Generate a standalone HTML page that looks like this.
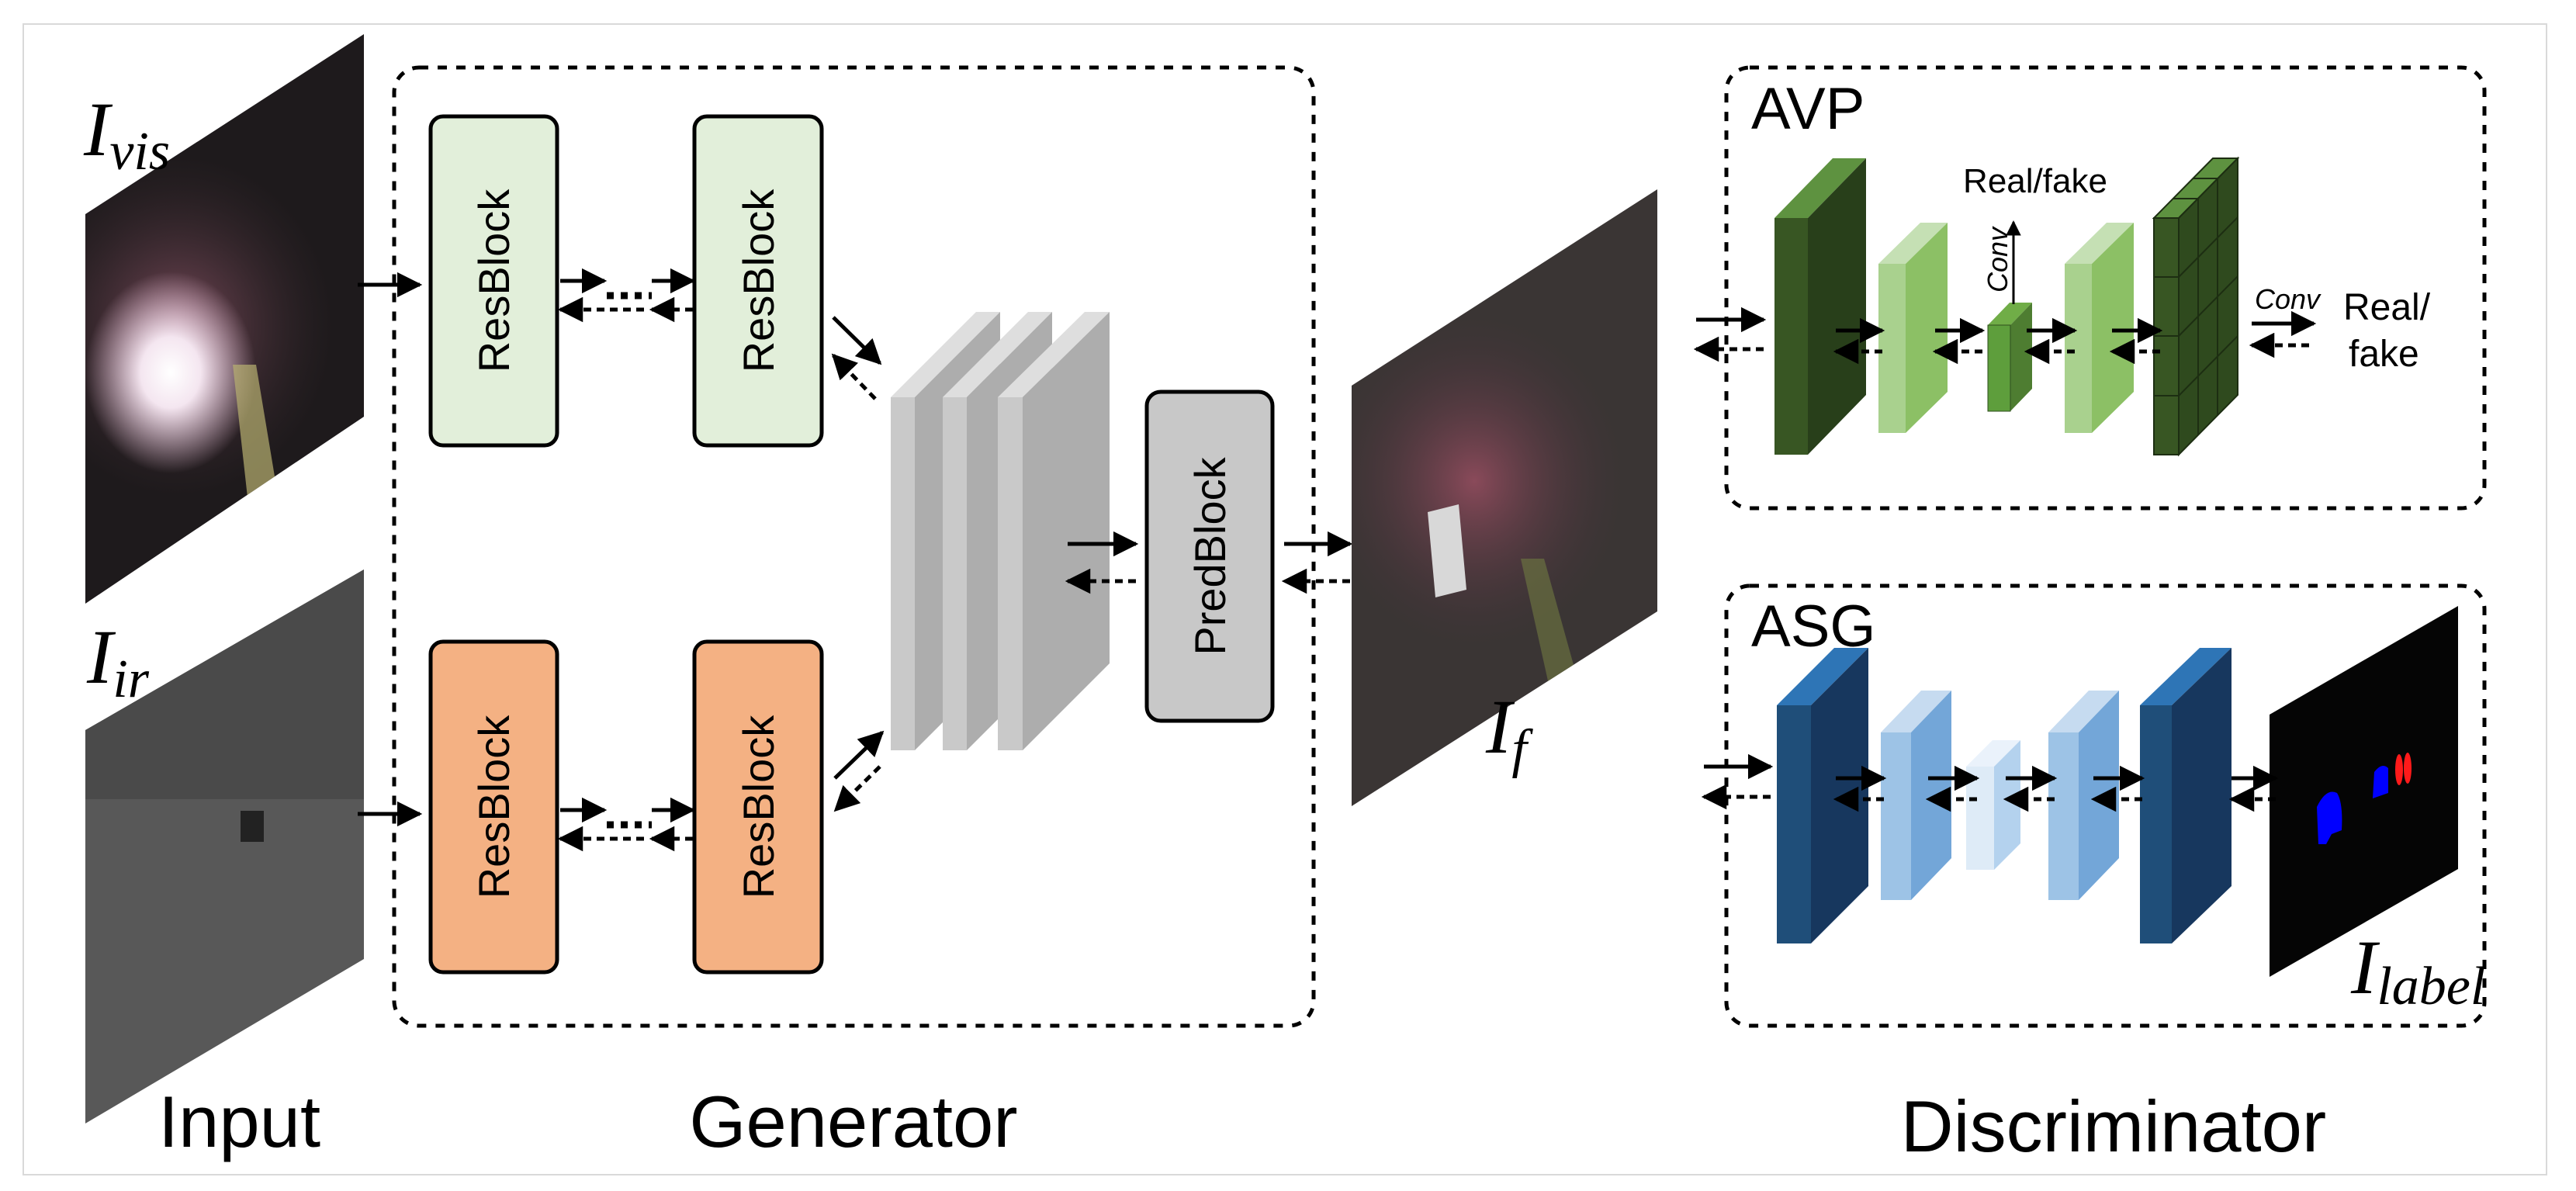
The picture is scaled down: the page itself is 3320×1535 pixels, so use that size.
<!DOCTYPE html>
<html><head><meta charset="utf-8"><style>
html,body{margin:0;padding:0;background:#fff;}
svg{display:block;}
text{font-family:"Liberation Sans",sans-serif;}
.serif{font-family:"Liberation Serif",serif;font-style:italic;}
</style></head><body>
<svg width="3320" height="1535" viewBox="0 0 3320 1535" xmlns="http://www.w3.org/2000/svg">
<defs>
<marker id="ah" viewBox="0 0 10 10" refX="9" refY="5" markerWidth="6.5" markerHeight="6.5" orient="auto" markerUnits="strokeWidth"><path d="M0,0 L10,5 L0,10 z" fill="#000"/></marker>
<clipPath id="cvis"><polygon points="110,276 469,44 469,537 110,778"/></clipPath>
<clipPath id="cir"><polygon points="110,941 469,734 469,1236 110,1448"/></clipPath>
<clipPath id="cf"><polygon points="1742,497 2136,244 2136,788 1742,1039"/></clipPath>
<radialGradient id="glow" cx="0.5" cy="0.5" r="0.5"><stop offset="0" stop-color="#fff"/><stop offset="0.35" stop-color="#f4e6f0"/><stop offset="1" stop-color="#f0c8e0" stop-opacity="0"/></radialGradient>
<radialGradient id="pink" cx="0.5" cy="0.5" r="0.5"><stop offset="0" stop-color="#7a4a5a"/><stop offset="1" stop-color="#3a2a30" stop-opacity="0"/></radialGradient>
<radialGradient id="fglow" cx="0.5" cy="0.5" r="0.5"><stop offset="0" stop-color="#8a4a5a"/><stop offset="1" stop-color="#403038" stop-opacity="0"/></radialGradient>
</defs>
<rect x="30" y="31" width="3252" height="1483" fill="none" stroke="#d9d9d9" stroke-width="2"/>

<!-- Input images -->
<g clip-path="url(#cvis)">
<rect x="100" y="40" width="380" height="750" fill="#1e1a1c"/>
<ellipse cx="230" cy="420" rx="200" ry="220" fill="url(#pink)"/>
<ellipse cx="220" cy="480" rx="110" ry="130" fill="url(#glow)"/>
<polygon points="300,470 330,470 360,650 320,650" fill="#b8b070" opacity="0.7"/>
</g>
<g clip-path="url(#cir)">
<rect x="100" y="730" width="380" height="730" fill="#585858"/>
<rect x="100" y="730" width="380" height="300" fill="#4a4a4a"/>
<rect x="310" y="1045" width="30" height="40" fill="#222"/>
</g>
<text x="108" y="200" class="serif" font-size="100">I<tspan font-size="70" dy="18">vis</tspan></text>
<text x="112" y="880" class="serif" font-size="100">I<tspan font-size="70" dy="18">ir</tspan></text>
<text x="204" y="1478" font-size="94">Input</text>

<!-- Generator box -->
<rect x="508" y="87" width="1185" height="1235" rx="32" fill="none" stroke="#000" stroke-width="5" stroke-dasharray="12 12"/>
<text x="1100" y="1478" font-size="94" text-anchor="middle">Generator</text>

<g stroke="#000" stroke-width="5">
<rect x="555" y="150" width="163" height="424" rx="16" fill="#e2efda"/>
<rect x="895" y="150" width="164" height="424" rx="16" fill="#e2efda"/>
<rect x="555" y="827" width="163" height="426" rx="16" fill="#f4b183"/>
<rect x="895" y="827" width="164" height="426" rx="16" fill="#f4b183"/>
<rect x="1478" y="505" width="162" height="424" rx="18" fill="#c8c8c8"/>
</g>
<g font-size="56" text-anchor="middle">
<text transform="translate(656,362) rotate(-90)">ResBlock</text>
<text transform="translate(997,362) rotate(-90)">ResBlock</text>
<text transform="translate(656,1040) rotate(-90)">ResBlock</text>
<text transform="translate(997,1040) rotate(-90)">ResBlock</text>
<text transform="translate(1579,717) rotate(-90)">PredBlock</text>
</g>

<!-- Gray stack -->
<g>
<polygon points="1148,512 1179,512 1289,402 1258,402" fill="#dedede"/>
<polygon points="1179,512 1289,402 1289,857 1179,967" fill="#adadad"/>
<rect x="1148" y="512" width="31" height="455" fill="#c9c9c9"/>
<polygon points="1215,512 1246,512 1356,402 1325,402" fill="#dedede"/>
<polygon points="1246,512 1356,402 1356,857 1246,967" fill="#adadad"/>
<rect x="1215" y="512" width="31" height="455" fill="#c9c9c9"/>
<polygon points="1286,512 1318,512 1430,402 1398,402" fill="#dedede"/>
<polygon points="1318,512 1430,402 1430,855 1318,967" fill="#adadad"/>
<rect x="1286" y="512" width="32" height="455" fill="#c9c9c9"/>
</g>

<!-- Generator arrows -->
<g stroke="#000" stroke-width="5" fill="none">
<line x1="461" y1="367" x2="541" y2="367" marker-end="url(#ah)"/>
<line x1="461" y1="1049" x2="541" y2="1049" marker-end="url(#ah)"/>
<line x1="722" y1="362" x2="779" y2="362" marker-end="url(#ah)"/>
<line x1="782" y1="381" x2="840" y2="381" stroke-width="9" stroke-dasharray="9 9"/>
<line x1="840" y1="362" x2="893" y2="362" marker-end="url(#ah)"/>
<line x1="893" y1="399" x2="840" y2="399" stroke-dasharray="10 7" marker-end="url(#ah)"/>
<line x1="830" y1="399" x2="722" y2="399" stroke-dasharray="10 7" marker-end="url(#ah)"/>
<line x1="722" y1="1044" x2="779" y2="1044" marker-end="url(#ah)"/>
<line x1="782" y1="1063" x2="840" y2="1063" stroke-width="9" stroke-dasharray="9 9"/>
<line x1="840" y1="1044" x2="893" y2="1044" marker-end="url(#ah)"/>
<line x1="893" y1="1081" x2="840" y2="1081" stroke-dasharray="10 7" marker-end="url(#ah)"/>
<line x1="830" y1="1081" x2="722" y2="1081" stroke-dasharray="10 7" marker-end="url(#ah)"/>
<line x1="1074" y1="409" x2="1134" y2="468" marker-end="url(#ah)"/>
<line x1="1128" y1="514" x2="1074" y2="458" stroke-dasharray="10 7" marker-end="url(#ah)"/>
<line x1="1076" y1="1003" x2="1137" y2="944" marker-end="url(#ah)"/>
<line x1="1134" y1="988" x2="1077" y2="1044" stroke-dasharray="10 7" marker-end="url(#ah)"/>
<line x1="1376" y1="701" x2="1464" y2="701" marker-end="url(#ah)"/>
<line x1="1464" y1="749" x2="1376" y2="749" stroke-dasharray="10 7" marker-end="url(#ah)"/>
<line x1="1655" y1="701" x2="1740" y2="701" marker-end="url(#ah)"/>
<line x1="1740" y1="749" x2="1655" y2="749" stroke-dasharray="10 7" marker-end="url(#ah)"/>
</g>

<!-- I_f image -->
<g clip-path="url(#cf)">
<rect x="1730" y="240" width="420" height="810" fill="#3a3534"/>
<ellipse cx="1900" cy="620" rx="200" ry="220" fill="url(#fglow)"/>
<polygon points="1840,660 1880,650 1890,760 1850,770" fill="#d8d8d8"/>
<polygon points="1960,720 1990,720 2040,900 2000,900" fill="#6a7040" opacity="0.7"/>
</g>
<text x="1915" y="970" class="serif" font-size="100">I<tspan font-size="70" dy="18">f</tspan></text>

<!-- AVP box -->
<rect x="2225" y="87" width="977" height="568" rx="30" fill="none" stroke="#000" stroke-width="5" stroke-dasharray="12 12"/>
<text x="2257" y="166" font-size="76">AVP</text>
<polygon points="2287,281 2330,281 2405,204 2362,204" fill="#5e9240"/>
<polygon points="2330,281 2405,204 2405,509 2330,586" fill="#283f1a"/>
<rect x="2287" y="281" width="43" height="305" fill="#385623"/>
<polygon points="2421,340 2456,340 2510,287 2475,287" fill="#c5e0b4"/>
<polygon points="2456,340 2510,287 2510,505 2456,558" fill="#8cc065"/>
<rect x="2421" y="340" width="35" height="218" fill="#a9d18e"/>
<polygon points="2562,419 2591,419 2619,390 2590,390" fill="#70ad47"/>
<polygon points="2591,419 2619,390 2619,501 2591,530" fill="#4e7d31"/>
<rect x="2562" y="419" width="29" height="111" fill="#5e9e3c" stroke="#2f4f1e" stroke-width="1"/>
<polygon points="2661,340 2696,340 2750,287 2715,287" fill="#c5e0b4"/>
<polygon points="2696,340 2750,287 2750,505 2696,558" fill="#8cc065"/>
<rect x="2661" y="340" width="35" height="218" fill="#a9d18e"/>
<polygon points="2776,281 2808,281 2884,204 2852,204" fill="#5e9240" stroke="#1d2e12" stroke-width="2"/>
<polygon points="2808,281 2884,204 2884,509 2808,586" fill="#2f4a1e" stroke="#1d2e12" stroke-width="2"/>
<rect x="2776" y="281" width="32" height="305" fill="#385623" stroke="#1d2e12" stroke-width="2"/>
<g stroke="#1d2e12" stroke-width="2" fill="none">
<line x1="2776" y1="357" x2="2808" y2="357"/><line x1="2776" y1="433" x2="2808" y2="433"/><line x1="2776" y1="510" x2="2808" y2="510"/>
<line x1="2808" y1="357" x2="2884" y2="280"/><line x1="2808" y1="433" x2="2884" y2="356"/><line x1="2808" y1="510" x2="2884" y2="433"/>
<line x1="2833" y1="256" x2="2833" y2="561"/><line x1="2858" y1="230" x2="2858" y2="535"/>
<line x1="2801" y1="256" x2="2833" y2="256"/><line x1="2826" y1="230" x2="2858" y2="230"/>
</g>
<text x="2623" y="248" font-size="44" text-anchor="middle">Real/fake</text>
<text transform="translate(2587,335) rotate(-90)" font-size="36" font-style="italic" text-anchor="middle">Conv</text>
<text x="2948" y="398" font-size="36" font-style="italic" text-anchor="middle">Conv</text>
<text x="3020" y="412" font-size="48">Real/</text>
<text x="3027" y="472" font-size="48">fake</text>
<g stroke="#000" stroke-width="5" fill="none">
<line x1="2595" y1="392" x2="2595" y2="286" stroke-width="3" marker-end="url(#ah)"/>
<line x1="2186" y1="412" x2="2273" y2="412" marker-end="url(#ah)"/>
<line x1="2273" y1="450" x2="2186" y2="450" stroke-dasharray="10 7" marker-end="url(#ah)"/>
<line x1="2366" y1="426" x2="2426" y2="426" marker-end="url(#ah)"/>
<line x1="2426" y1="453" x2="2366" y2="453" stroke-dasharray="10 7" marker-end="url(#ah)"/>
<line x1="2494" y1="426" x2="2555" y2="426" marker-end="url(#ah)"/>
<line x1="2555" y1="453" x2="2494" y2="453" stroke-dasharray="10 7" marker-end="url(#ah)"/>
<line x1="2612" y1="426" x2="2674" y2="426" marker-end="url(#ah)"/>
<line x1="2674" y1="453" x2="2612" y2="453" stroke-dasharray="10 7" marker-end="url(#ah)"/>
<line x1="2722" y1="426" x2="2784" y2="426" marker-end="url(#ah)"/>
<line x1="2784" y1="453" x2="2722" y2="453" stroke-dasharray="10 7" marker-end="url(#ah)"/>
<line x1="2902" y1="417" x2="2982" y2="417" marker-end="url(#ah)"/>
<line x1="2976" y1="445" x2="2902" y2="445" stroke-dasharray="10 7" marker-end="url(#ah)"/>
</g>

<!-- ASG box -->
<rect x="2225" y="755" width="977" height="567" rx="30" fill="none" stroke="#000" stroke-width="5" stroke-dasharray="12 12"/>
<text x="2257" y="833" font-size="76">ASG</text>
<polygon points="2290,909 2334,909 2408,835 2364,835" fill="#2e75b6"/>
<polygon points="2334,909 2408,835 2408,1142 2334,1216" fill="#17375e"/>
<rect x="2290" y="909" width="44" height="307" fill="#1f4e79"/>
<polygon points="2424,944 2463,944 2515,890 2476,890" fill="#c6dbf0"/>
<polygon points="2463,944 2515,890 2515,1106 2463,1160" fill="#73a6d8"/>
<rect x="2424" y="944" width="39" height="216" fill="#9dc3e6"/>
<polygon points="2534,988 2570,988 2604,954 2568,954" fill="#eaf2fb"/>
<polygon points="2570,988 2604,954 2604,1087 2570,1121" fill="#b4d2ee"/>
<rect x="2534" y="988" width="36" height="133" fill="#deebf7"/>
<polygon points="2640,944 2679,944 2731,890 2692,890" fill="#c6dbf0"/>
<polygon points="2679,944 2731,890 2731,1106 2679,1160" fill="#73a6d8"/>
<rect x="2640" y="944" width="39" height="216" fill="#9dc3e6"/>
<polygon points="2758,909 2799,909 2876,835 2835,835" fill="#2e75b6"/>
<polygon points="2799,909 2876,835 2876,1142 2799,1216" fill="#17375e"/>
<rect x="2758" y="909" width="41" height="307" fill="#1f4e79"/>
<polygon points="2925,921 3168,781 3168,1120 2925,1259" fill="#050505"/>
<path d="M2988,1088 L2986,1040 Q2998,1015 3012,1022 Q3020,1035 3018,1070 L3005,1075 L2998,1088 z" fill="#0000ff"/>
<path d="M3058,1029 L3060,995 Q3070,982 3078,990 L3078,1022 z" fill="#0000ff"/>
<ellipse cx="3092" cy="992" rx="5" ry="20" fill="#ff1a1a"/>
<ellipse cx="3103" cy="990" rx="5" ry="20" fill="#ff1a1a"/>
<text x="3030" y="1280" class="serif" font-size="100">I<tspan font-size="70" dy="14">label</tspan></text>
<g stroke="#000" stroke-width="5" fill="none">
<line x1="2196" y1="988" x2="2282" y2="988" marker-end="url(#ah)"/>
<line x1="2282" y1="1027" x2="2196" y2="1027" stroke-dasharray="10 7" marker-end="url(#ah)"/>
<line x1="2366" y1="1003" x2="2428" y2="1003" marker-end="url(#ah)"/>
<line x1="2428" y1="1030" x2="2366" y2="1030" stroke-dasharray="10 7" marker-end="url(#ah)"/>
<line x1="2485" y1="1003" x2="2548" y2="1003" marker-end="url(#ah)"/>
<line x1="2548" y1="1030" x2="2485" y2="1030" stroke-dasharray="10 7" marker-end="url(#ah)"/>
<line x1="2585" y1="1003" x2="2648" y2="1003" marker-end="url(#ah)"/>
<line x1="2648" y1="1030" x2="2585" y2="1030" stroke-dasharray="10 7" marker-end="url(#ah)"/>
<line x1="2698" y1="1003" x2="2761" y2="1003" marker-end="url(#ah)"/>
<line x1="2761" y1="1030" x2="2698" y2="1030" stroke-dasharray="10 7" marker-end="url(#ah)"/>
<line x1="2876" y1="1003" x2="2933" y2="1003" marker-end="url(#ah)"/>
<line x1="2933" y1="1030" x2="2876" y2="1030" stroke-dasharray="10 7" marker-end="url(#ah)"/>
</g>
<text x="2724" y="1484" font-size="94" text-anchor="middle">Discriminator</text>
</svg>
</body></html>
